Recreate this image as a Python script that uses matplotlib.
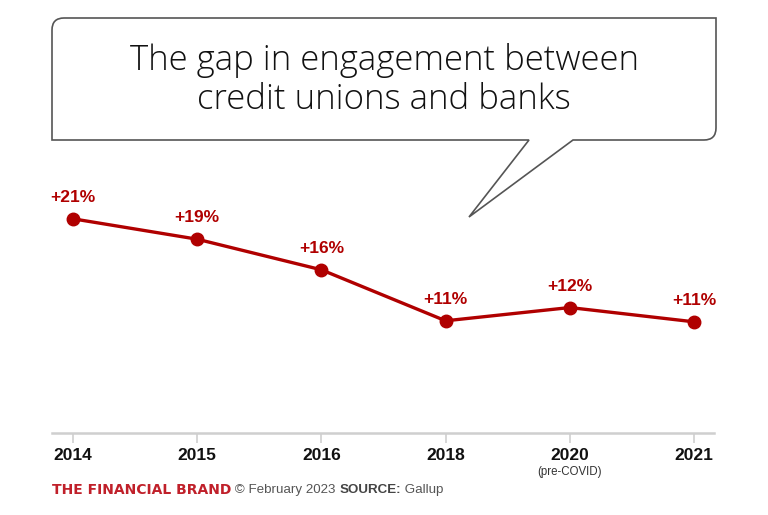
import matplotlib
matplotlib.use("Agg")
import matplotlib.pyplot as plt
from matplotlib.path import Path
from matplotlib.patches import PathPatch
from matplotlib import font_manager

years = ["2014", "2015", "2016", "2018", "2020", "2021"]
sublabels = ["", "", "", "", "(pre-COVID)", ""]
values = [21, 19, 16, 11, 12.3, 10.9]
value_labels = ["+21%", "+19%", "+16%", "+11%", "+12%", "+11%"]
title_lines = ["The gap in engagement between", "credit unions and banks"]

W, H = 768, 515
RED = "#b00000"

names = {f.name for f in font_manager.fontManager.ttflist}
NARROW = "Liberation Sans Narrow" if "Liberation Sans Narrow" in names else "Liberation Sans"

fig = plt.figure(figsize=(W / 100, H / 100), dpi=100)
fig.patch.set_facecolor("white")

def fx(px):
    return px / W

def fy(py):
    return 1 - py / H

# axes: x from 52 to 714 px, y=0 at 433 px
ax_left, ax_right = 52, 714
ax_bottom, ax_top = 433, 180
ax = fig.add_axes([fx(ax_left), fy(ax_bottom), (ax_right - ax_left) / W, (ax_bottom - ax_top) / H])
spacing = (694 - 73) / 5
xlo = -(73 - ax_left) / spacing
xhi = 5 + (ax_right - 694) / spacing
ax.set_xlim(xlo, xhi)
ppu = 10.2
ax.set_ylim(0, (ax_bottom - ax_top) / ppu)

x = list(range(len(years)))
ax.plot(x, values, color=RED, lw=2.4, marker="o", ms=9, mfc=RED, mec=RED, solid_capstyle="round", clip_on=False, zorder=3)
for xi, v, lab in zip(x, values, value_labels):
    ax.annotate(lab, (xi, v), xytext=(0, 17), textcoords="offset pixels", ha="center", va="baseline",
                color=RED, fontsize=12.5, fontweight="bold", family="Liberation Sans")

for s in ["top", "right", "left"]:
    ax.spines[s].set_visible(False)
ax.spines["bottom"].set_color("#cfcfcf")
ax.spines["bottom"].set_linewidth(1.8)
ax.set_yticks([])
ax.set_xticks(x)
ax.set_xticklabels(years, fontsize=12.5, fontweight="bold", family=NARROW, color="#111111")
ax.tick_params(axis="x", length=7, width=1.2, color="#cfcfcf", pad=4)
for xi, sl in zip(x, sublabels):
    if sl:
        ax.annotate(sl, (xi, 0), xytext=(0, -39), textcoords="offset pixels", ha="center", va="center",
                    fontsize=8.3, color="#333333", family=NARROW)

# speech bubble
L, R, T, B = 52, 716, 18, 140
r = 12
tail_l, tail_r, tip = 529, 573, (469, 217)
pts = [
    ((L, T + r), Path.MOVETO),
    ((L, T), Path.CURVE3), ((L + r, T), Path.CURVE3),
    ((R, T), Path.LINETO),
    ((R, B - r), Path.LINETO),
    ((R, B), Path.CURVE3), ((R - r, B), Path.CURVE3),
    ((tail_r, B), Path.LINETO),
    (tip, Path.LINETO),
    ((tail_l, B), Path.LINETO),
    ((L, B), Path.LINETO),
    ((L, T + r), Path.CLOSEPOLY),
]
verts = [(fx(p[0]), fy(p[1])) for p, _ in pts]
codes = [c for _, c in pts]
bubble = PathPatch(Path(verts, codes), transform=fig.transFigure, facecolor="white",
                   edgecolor="#555555", lw=1.2, joinstyle="miter", zorder=5)
fig.patches.append(bubble)

title_kw = dict(ha="center", va="center", fontsize=25, color="#111111", family="Open Sans", fontweight="light", zorder=6)
fig.text(fx(384), fy(60), title_lines[0], **title_kw)
fig.text(fx(384), fy(100), title_lines[1], **title_kw)

# footer
fig.canvas.draw()
renderer = fig.canvas.get_renderer()
parts = [
    ("THE FINANCIAL BRAND", dict(color="#c0202a", fontweight="bold", family="DejaVu Sans", fontsize=10)),
    (" © February 2023 ", dict(color="#555555", family=NARROW, fontsize=9.6)),
    ("SOURCE:", dict(color="#444444", fontweight="bold", family=NARROW, fontsize=9.6)),
    (" Gallup", dict(color="#555555", family=NARROW, fontsize=9.6)),
]
xpos = fx(52)
for txt, kw in parts:
    t = fig.text(xpos, fy(490), txt, va="center", ha="left", **kw)
    bb = t.get_window_extent(renderer=renderer)
    xpos += bb.width / W

fig.savefig("out.png", dpi=100, facecolor="white")
